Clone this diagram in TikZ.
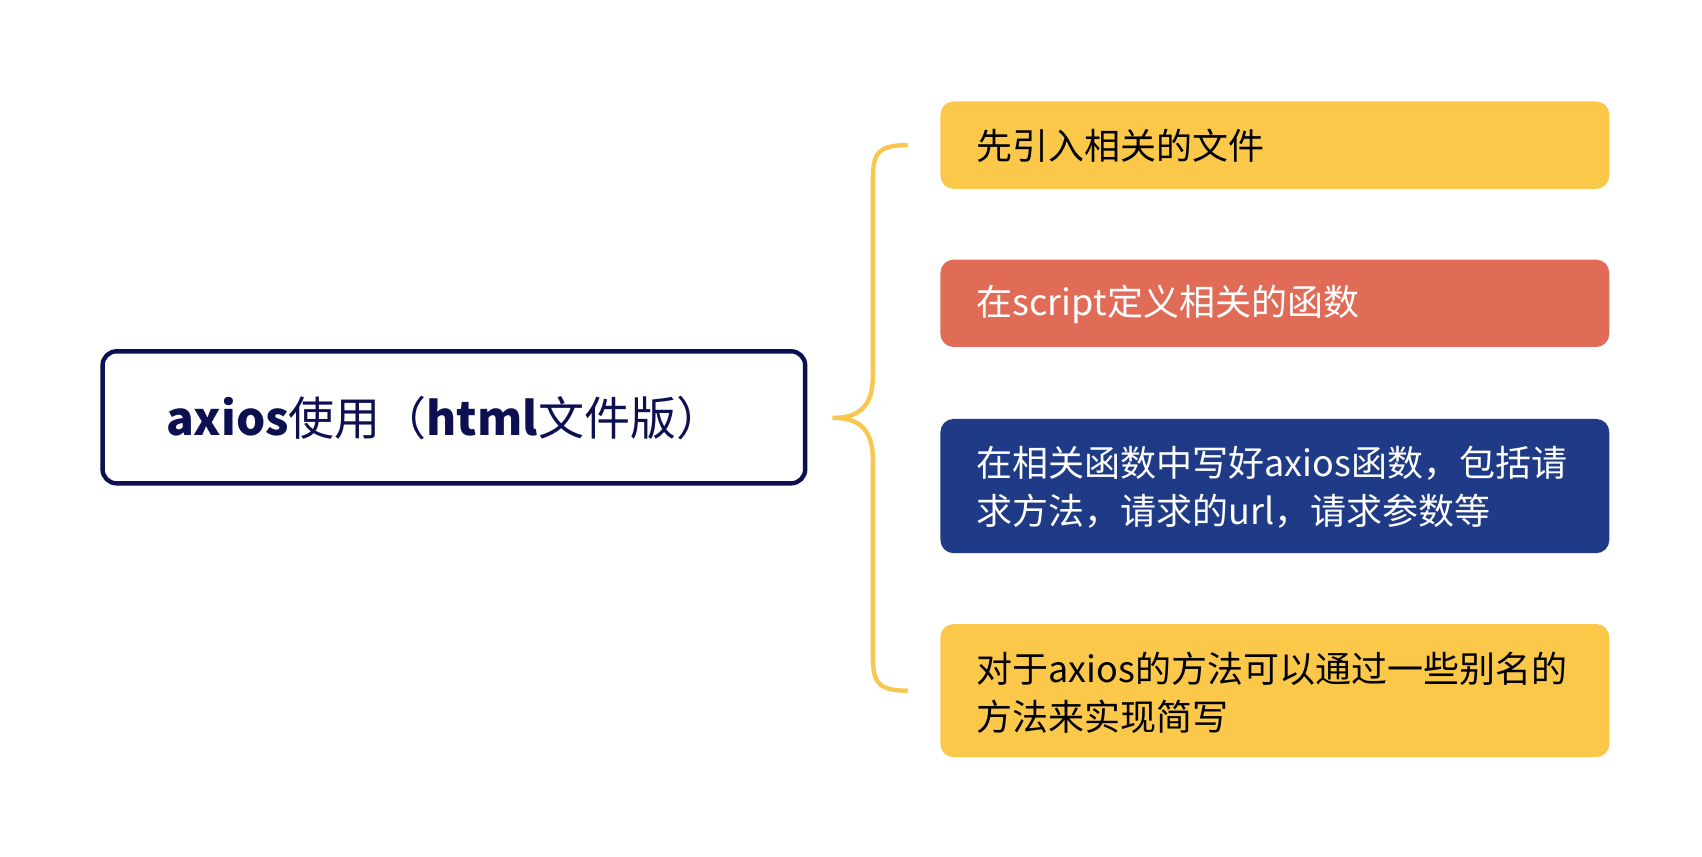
\documentclass[tikz,border=0pt]{standalone}
\usepackage{fontspec}
\setmainfont{Noto Sans CJK SC}
\definecolor{navy}{HTML}{0D1050}
\definecolor{yel}{HTML}{FCC84A}
\definecolor{brc}{HTML}{F9C74F}
\definecolor{red}{HTML}{E06C57}
\definecolor{blu}{HTML}{1F3A87}
\begin{document}
\begin{tikzpicture}[x=1.091pt,y=-1.091pt,
 lbl/.style={anchor=west,align=left,inner sep=0pt,font=\fontsize{36}{48}\selectfont}]
\useasboundingbox (0,0) rectangle (1560,785);
\draw[navy,line width=4.4pt,rounded corners=14pt] (94,322) rectangle (738,443);
\node[text=navy,font=\fontsize{46}{50}\selectfont] (main) at (407,383) {\textbf{axios}使用（\textbf{html}文件版）};
\coordinate (mainr) at (763,383);
\fill[yel,rounded corners=13pt] (862,93) rectangle (1475,173);
\node[lbl,text=black] (a) at (895,134) {先引入相关的文件};
\fill[red,rounded corners=13pt] (862,238) rectangle (1475,318);
\node[lbl,text=white] (b) at (895,279) {在script定义相关的函数};
\fill[blu,rounded corners=13pt] (862,384) rectangle (1475,507);
\node[lbl,text=white] (c) at (895,447) {在相关函数中写好axios函数，包括请\\求方法，请求的url，请求参数等};
\fill[yel,rounded corners=13pt] (862,572) rectangle (1475,694);
\node[lbl,text=black] (d) at (895,635) {对于axios的方法可以通过一些别名的\\方法来实现简写};
\draw[brc,line width=4.4pt] (832,133) .. controls (805,133) and (800,140) .. (800,165) -- (800,345) .. controls (800,375) and (785,383) .. (mainr) .. controls (785,383) and (800,391) .. (800,421) -- (800,601) .. controls (800,626) and (805,633) .. (832,633);
\end{tikzpicture}
\end{document}
